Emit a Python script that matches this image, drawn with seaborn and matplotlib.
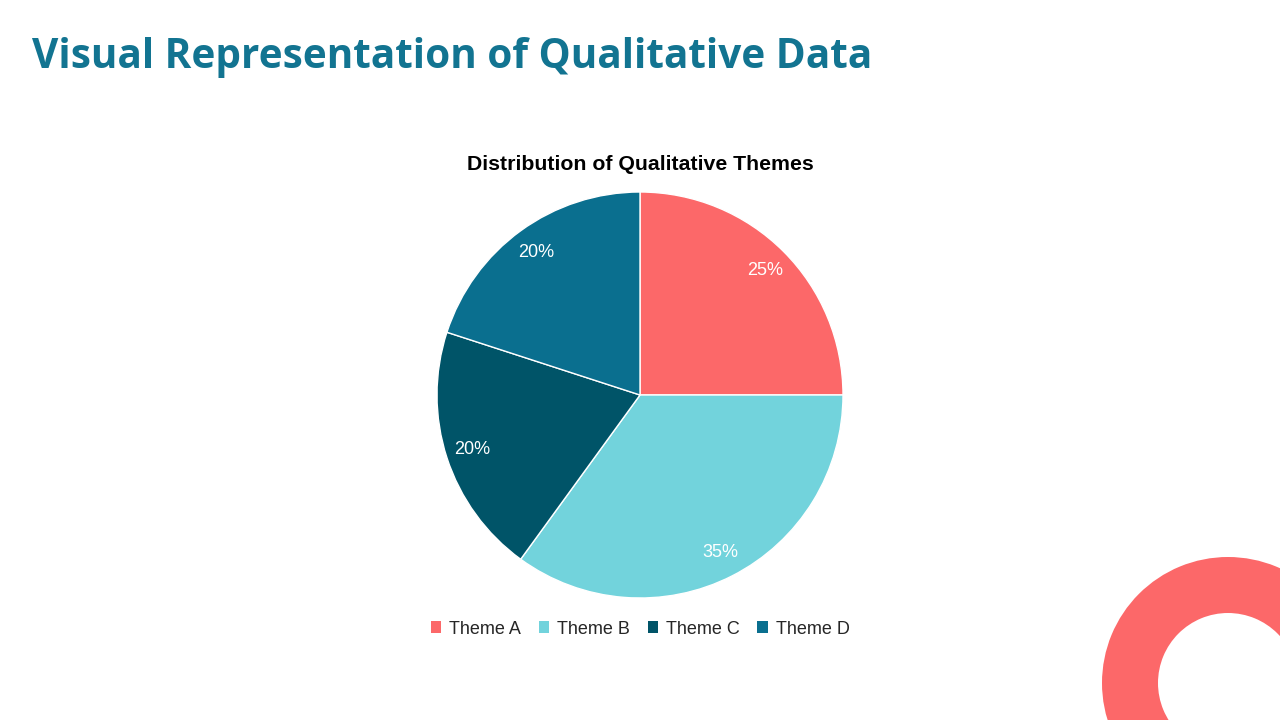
import matplotlib
matplotlib.use('Agg')
import matplotlib.pyplot as plt
import seaborn as sns
from matplotlib.patches import Wedge, Patch

# data
themes = ['Theme A', 'Theme B', 'Theme C', 'Theme D']
shares = [25, 35, 20, 20]
colors = ['#FC6869', '#72D3DC', '#005468', '#0A6F8F']

sns.set_theme(style='white')
plt.rcParams['font.family'] = ['Liberation Sans', 'DejaVu Sans']

fig = plt.figure(figsize=(12.8, 7.2), dpi=100)
fig.patch.set_facecolor('white')

# background layer in pixel coords (title + decorative ring)
bg = fig.add_axes([0, 0, 1, 1])
bg.set_xlim(0, 1280)
bg.set_ylim(720, 0)
bg.axis('off')
bg.text(32, 57, 'Visual Representation of Qualitative Data', fontsize=29.2,
        fontweight='bold', color='#127491', family=['Open Sans', 'DejaVu Sans'],
        va='center', ha='left')
bg.add_patch(Wedge((1228, 683), 126, 0, 360, width=56, color='#FC6869', lw=0))

# pie
cx, cy, r = 640, 395, 203
ax = fig.add_axes([(cx - r) / 1280, (720 - cy - r) / 720, 2 * r / 1280, 2 * r / 720])
wedges, texts, autotexts = ax.pie(
    shares, colors=colors, startangle=90, counterclock=False,
    autopct='%d%%', pctdistance=0.87,
    wedgeprops=dict(edgecolor='white', linewidth=1),
    textprops=dict(color='white', fontsize=13))
ax.set_xlim(-1, 1)
ax.set_ylim(-1, 1)
ax.set_aspect('equal')

bg.text(640, 164, 'Distribution of Qualitative Themes', fontsize=15.3,
        fontweight='bold', color='black', ha='center', va='center')

handles = [Patch(facecolor=c, edgecolor='none') for c in colors]
fig.legend(handles, themes, loc='center', bbox_to_anchor=(640 / 1280, 1 - 629 / 720),
           ncol=4, frameon=False, fontsize=13, handlelength=0.6, handleheight=0.6,
           handletextpad=0.4, columnspacing=1.0)

fig.savefig('out.png', dpi=100)
